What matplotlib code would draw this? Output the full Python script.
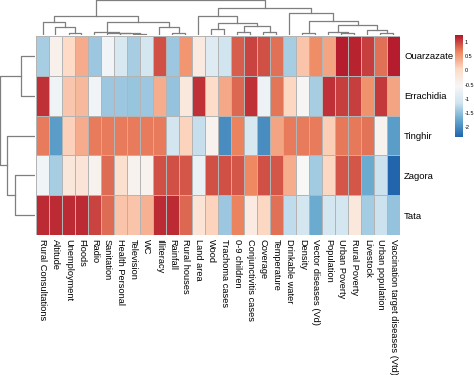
import matplotlib
matplotlib.use('Agg')
import matplotlib.pyplot as plt
import numpy as np
from matplotlib.colors import LinearSegmentedColormap

plt.rcParams['font.family'] = ['Liberation Sans', 'DejaVu Sans']

# rows (districts) and columns (indicators) in display order
districts = ['Ouarzazate', 'Errachidia', 'Tinghir', 'Zagora', 'Tata']
indicators = ['Rural Consultations', 'Altitude', 'Unemployment', 'Floods', 'Radio',
              'Sanitation', 'Health Personal', 'Television', 'WC', 'Illiteracy',
              'Rainfall', 'Rural houses', 'Land area', 'Wood', 'Trachoma cases',
              '0-9 children', 'Conjunctivitis cases', 'Coverage', 'Temperature',
              'Drinkable water', 'Density', 'Vector diseases (Vd)', 'Population',
              'Urban Poverty', 'Rural Poverty', 'Livestock', 'Urban population',
              'Vaccination target diseases (Vtd)']

ouarzazate = [-1.38, -0.40, 0.05, 0.40, -1.45, -0.65, -1.05, -1.38, -1.10, 0.95,
              -1.45, 0.55, -0.25, -0.95, -1.15, 0.88, 1.02, 0.95, 0.78, -1.38,
              0.22, 0.63, 0.45, 1.22, 1.18, 1.05, 0.78, 1.22]
errachidia = [1.12, -0.70, 0.20, 0.30, -0.65, -1.45, -1.45, -1.47, -1.45, 0.38,
              -1.48, -0.22, 1.12, 0.00, 0.43, 0.82, 1.12, -0.72, 0.75, 0.08,
              -0.50, -1.38, 1.12, 1.05, 1.05, 0.58, 1.07, 0.45]
tinghir = [0.72, -1.85, 0.12, 0.40, 0.72, 0.72, 0.72, 0.72, 0.72, 0.72,
           -1.12, 0.10, -1.20, -0.45, -2.00, 0.68, -1.05, -2.00, 0.45, 0.72,
           0.72, 0.72, 0.15, 0.74, 0.74, 0.76, -0.45, -1.85]
zagora = [-0.65, -1.38, -0.20, -0.15, -0.45, 0.80, -0.05, -0.45, -0.45, 0.95,
          0.95, 0.92, -0.75, 0.95, 0.95, 0.92, 0.65, 0.95, 0.92, 0.38,
          -0.55, -1.42, 0.08, 0.92, 0.92, -1.73, -1.17, -2.35]
tata = [1.15, 1.15, 1.15, 1.15, 1.02, 0.80, 0.22, 0.22, 0.35, 1.15,
        1.15, 0.82, -0.12, 0.10, -1.45, 0.68, -0.28, 0.08, 0.78, -1.25,
        -1.10, -1.72, -1.10, -1.10, -0.22, -1.40, -1.18, -1.48]

# dendrogram merges (left node, right node, height); leaves are display positions
col_merges = [(2, 3, 0.05), (1, 28, 0.22), (0, 29, 0.38), (7, 8, 0.03), (6, 31, 0.05),
              (5, 32, 0.07), (4, 33, 0.10), (10, 11, 0.07), (9, 35, 0.22), (34, 36, 0.38),
              (30, 37, 0.54), (13, 14, 0.16), (15, 16, 0.10), (17, 18, 0.08), (40, 41, 0.26),
              (39, 42, 0.35), (12, 43, 0.54), (20, 21, 0.06), (23, 24, 0.05), (22, 46, 0.10),
              (26, 27, 0.05), (25, 48, 0.15), (47, 49, 0.30), (45, 50, 0.41), (19, 51, 0.64),
              (44, 52, 0.76), (38, 53, 1.00)]
row_merges = [(0, 1, 0.40), (3, 4, 0.56), (2, 6, 0.80), (5, 7, 1.00)]

values = np.array([ouarzazate, errachidia, tinghir, zagora, tata])

palette = ['#2166ac', '#67a9cf', '#d1e5f0', '#f7f7f7', '#fddbc7', '#ef8a62', '#b2182b']
cmap = LinearSegmentedColormap.from_list('rdbu7', palette)
vmin, vmax = -2.35, 1.25


def dendro_paths(merges, n):
    pos = {i: i + 0.5 for i in range(n)}
    hgt = {i: 0.0 for i in range(n)}
    paths = []
    for k, (a, b, h) in enumerate(merges):
        paths.append(([pos[a], pos[a], pos[b], pos[b]], [hgt[a], h, h, hgt[b]]))
        pos[n + k] = (pos[a] + pos[b]) / 2
        hgt[n + k] = h
    return paths


W, H = 474, 375
fig = plt.figure(figsize=(W / 100, H / 100), dpi=100)


def box(x0, y0, x1, y1):
    return [x0 / W, 1 - y1 / H, (x1 - x0) / W, (y1 - y0) / H]


ax = fig.add_axes(box(36, 36, 400, 235))
ax.pcolormesh(values, cmap=cmap, vmin=vmin, vmax=vmax,
              edgecolors='#b4b4b4', linewidth=0.5)
ax.set_xlim(0, len(indicators))
ax.set_ylim(len(districts), 0)
ax.set_xticks(np.arange(len(indicators)) + 0.5)
ax.set_xticklabels(indicators, rotation=270, fontsize=6.7, va='top', ha='center')
ax.yaxis.tick_right()
ax.set_yticks(np.arange(len(districts)) + 0.5)
ax.set_yticklabels(districts, fontsize=6.8)
ax.tick_params(length=0, pad=3)
for s in ax.spines.values():
    s.set_visible(False)

# column dendrogram
axc = fig.add_axes(box(36, 0, 400, 35))
for xs, ys in dendro_paths(col_merges, len(indicators)):
    axc.plot(xs, ys, color='#7f7f7f', lw=0.9)
axc.set_xlim(0, len(indicators))
axc.set_ylim(0, 1.0)
axc.axis('off')

# row dendrogram
axr = fig.add_axes(box(0, 36, 35, 235))
for ys, xs in dendro_paths(row_merges, len(districts)):
    axr.plot(xs, ys, color='#7f7f7f', lw=0.9)
axr.set_ylim(len(districts), 0)
axr.set_xlim(1.0, 0)
axr.axis('off')

# colour legend
axl = fig.add_axes(box(455, 35, 462, 137))
grad = np.linspace(vmin, vmax, 200).reshape(-1, 1)
axl.imshow(grad, cmap=cmap, vmin=vmin, vmax=vmax, aspect='auto', origin='lower',
           extent=[0, 1, vmin, vmax])
axl.set_xticks([])
axl.yaxis.tick_right()
ticks = [1, 0.5, 0, -0.5, -1, -1.5, -2]
axl.set_yticks(ticks)
axl.set_yticklabels(['1', '0.5', '0', '-0.5', '-1', '-1.5', '-2'], fontsize=4)
axl.tick_params(length=0, pad=2)
for s in axl.spines.values():
    s.set_visible(False)

fig.savefig('out.png', dpi=100)
